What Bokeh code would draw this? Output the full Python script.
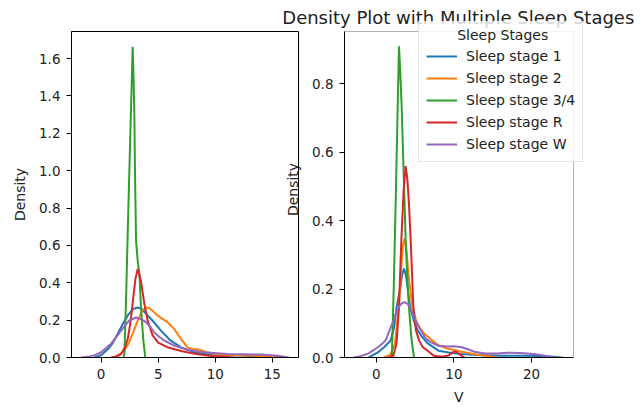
from bokeh.plotting import figure
from bokeh.models import (Range1d, FixedTicker, NumeralTickFormatter, Legend, LegendItem,
                          BoxAnnotation, Label)
from bokeh.layouts import row, column
from bokeh.embed import file_html
from bokeh.resources import INLINE

FONT = "DejaVu Sans"
TEXT = "#222222"

stages = ["Sleep stage 1", "Sleep stage 2", "Sleep stage 3/4", "Sleep stage R", "Sleep stage W"]
colors = ["#1f77b4", "#ff7f0e", "#2ca02c", "#d62728", "#9467bd"]

# ---- left panel: density estimates per stage ----
left_s1_x = [-0.6, 0.0, 0.6, 1.0, 1.45, 1.9, 2.33, 2.8, 3.2, 3.6, 4.0, 4.5, 5.24, 6.1, 7.0, 8.2, 9.6, 11.0, 12.5, 14.5]
left_s1_y = [0.0, 0.012, 0.045, 0.075, 0.127, 0.18, 0.225, 0.26, 0.268, 0.258, 0.23, 0.198, 0.144, 0.09, 0.054, 0.027, 0.016, 0.013, 0.01, 0.0]

left_s2_x = [1.16, 1.6, 2.03, 2.4, 2.76, 3.05, 3.34, 3.6, 3.93, 4.2, 4.5, 4.9, 5.24, 5.82, 6.4, 7.0, 7.56, 8.0, 8.44, 8.9, 9.3, 10.2, 11.5, 12.5, 14.5, 16.5]
left_s2_y = [0.0, 0.012, 0.037, 0.075, 0.127, 0.175, 0.216, 0.25, 0.268, 0.265, 0.25, 0.228, 0.212, 0.189, 0.153, 0.1, 0.054, 0.046, 0.044, 0.036, 0.028, 0.016, 0.013, 0.011, 0.008, 0.0]

left_s34_x = [1.95, 2.04, 2.2, 2.33, 2.45, 2.56, 2.67, 2.76, 2.84, 2.91, 2.97, 3.06, 3.2, 3.35, 3.49, 3.7, 3.87]
left_s34_y = [0.0, 0.02, 0.35, 0.67, 0.95, 1.2, 1.45, 1.663, 1.5, 1.3, 0.98, 0.626, 0.52, 0.45, 0.27, 0.09, 0.0]

left_sR_x = [0.87, 1.3, 1.75, 2.1, 2.33, 2.55, 2.76, 3.0, 3.2, 3.49, 3.78, 4.07, 4.5, 5.0, 5.8, 7.0, 8.2, 9.6, 11.7]
left_sR_y = [0.0, 0.006, 0.02, 0.055, 0.1, 0.18, 0.29, 0.42, 0.474, 0.41, 0.29, 0.2, 0.12, 0.08, 0.055, 0.035, 0.02, 0.008, 0.0]

left_sW_x = [-1.75, -1.0, -0.5, 0.0, 0.87, 1.3, 1.75, 2.1, 2.47, 3.05, 3.5, 3.93, 4.3, 4.65, 5.1, 5.53, 6.4, 7.56, 9.0, 11.05, 14.0, 15.5, 16.4]
left_sW_y = [0.0, 0.006, 0.014, 0.028, 0.074, 0.108, 0.144, 0.172, 0.198, 0.214, 0.205, 0.189, 0.165, 0.135, 0.11, 0.091, 0.064, 0.041, 0.028, 0.019, 0.016, 0.01, 0.0]

# ---- right panel: density estimates per stage ----
right_s1_x = [-1.0, 0.2, 1.0, 1.85, 2.3, 2.62, 3.05, 3.35, 3.57, 3.85, 4.34, 4.8, 5.29, 5.9, 6.58, 8.0, 9.5, 11.0, 13.0, 16.0, 19.0, 22.0, 24.0]
right_s1_y = [0.0, 0.015, 0.03, 0.05, 0.09, 0.148, 0.2, 0.245, 0.26, 0.235, 0.148, 0.11, 0.08, 0.06, 0.042, 0.02, 0.014, 0.01, 0.007, 0.005, 0.005, 0.004, 0.0]

right_s2_x = [1.0, 1.8, 2.4, 2.9, 3.2, 3.45, 3.65, 3.9, 4.13, 4.64, 5.1, 5.5, 6.15, 7.2, 8.0, 9.0, 10.0, 11.0, 12.5, 14.0, 15.6]
right_s2_y = [0.0, 0.008, 0.04, 0.15, 0.26, 0.33, 0.347, 0.31, 0.245, 0.148, 0.11, 0.09, 0.07, 0.05, 0.036, 0.027, 0.022, 0.017, 0.01, 0.005, 0.0]

right_s34_x = [2.0, 2.25, 2.5, 2.75, 2.92, 3.05, 3.27, 3.52, 3.78, 4.0, 4.2, 4.5, 4.85]
right_s34_y = [0.0, 0.21, 0.46, 0.73, 0.909, 0.85, 0.73, 0.537, 0.342, 0.23, 0.148, 0.06, 0.0]

right_sR_x = [1.6, 2.2, 2.6, 2.92, 3.22, 3.52, 3.78, 4.0, 4.2, 4.43, 4.77, 5.1, 5.5, 6.0, 6.6, 7.4, 8.5, 9.3, 9.8, 10.2, 10.7, 11.3]
right_sR_y = [0.0, 0.005, 0.04, 0.148, 0.342, 0.49, 0.559, 0.52, 0.45, 0.342, 0.148, 0.08, 0.05, 0.03, 0.02, 0.005, 0.002, 0.006, 0.015, 0.018, 0.01, 0.0]

right_sW_x = [-2.9, -2.0, -1.0, -0.3, 0.5, 1.2, 2.06, 2.7, 3.2, 3.65, 4.1, 4.64, 5.2, 5.7, 6.36, 7.0, 8.0, 9.0, 10.0, 11.0, 11.8, 12.6, 14.0, 15.5, 17.0, 18.5, 20.3, 21.5, 22.9]
right_sW_y = [0.0, 0.004, 0.012, 0.022, 0.035, 0.05, 0.1, 0.14, 0.157, 0.162, 0.155, 0.13, 0.1, 0.08, 0.055, 0.045, 0.034, 0.032, 0.033, 0.03, 0.024, 0.017, 0.012, 0.012, 0.014, 0.013, 0.01, 0.006, 0.0]

left_curves = [(left_s1_x, left_s1_y), (left_s2_x, left_s2_y), (left_s34_x, left_s34_y),
               (left_sR_x, left_sR_y), (left_sW_x, left_sW_y)]
right_curves = [(right_s1_x, right_s1_y), (right_s2_x, right_s2_y), (right_s34_x, right_s34_y),
                (right_sR_x, right_sR_y), (right_sW_x, right_sW_y)]

left_xticks = [0, 5, 10, 15]
left_yticks = [0.0, 0.2, 0.4, 0.6, 0.8, 1.0, 1.2, 1.4, 1.6]
right_xticks = [0, 10, 20]
right_yticks = [0.0, 0.2, 0.4, 0.6, 0.8]

# axes limits of the two panels
left_xlim = (-2.6, 17.3)
left_ylim = (0.0, 1.745)
right_xlim = (-4.1, 25.4)
right_ylim = (0.0, 0.952)

chart_title = "Density Plot with Multiple Sleep Stages"
legend_title = "Sleep Stages"
right_xlabel = "V"
ylabel = "Density"

W, H = 643, 415
TOP = 31      # distance from the page top to the axes boxes
BOTTOM = 58   # distance from the axes boxes to the page bottom
EXTRA_TOP, EXTRA_RIGHT = 10, 15   # room for the legend beyond the right box


def style_axes(p, xticks, yticks):
    p.xgrid.visible = False
    p.ygrid.visible = False
    p.xaxis.ticker = FixedTicker(ticks=xticks)
    p.yaxis.ticker = FixedTicker(ticks=yticks)
    p.yaxis.formatter = NumeralTickFormatter(format="0.0")
    for ax in (p.xaxis, p.yaxis):
        ax.axis_line_color = "black"
        ax.axis_line_width = 1
        ax.major_tick_out = 5
        ax.major_tick_in = 0
        ax.minor_tick_out = 0
        ax.minor_tick_in = 0
        ax.major_tick_line_color = "black"
        ax.major_label_text_font = FONT
        ax.major_label_text_font_size = "13.5px"
        ax.major_label_text_color = TEXT
        ax.major_label_standoff = 6
        ax.axis_label_text_font = FONT
        ax.axis_label_text_font_size = "14px"
        ax.axis_label_text_font_style = "normal"
        ax.axis_label_text_color = TEXT
    p.yaxis.axis_label_standoff = 8


# page-sized backdrop carrying the overall title and the x label of the right
# panel (both are centred on the right axes box); the panels sit on top of it
pt = figure(width=W, height=H, output_backend="svg", toolbar_location=None,
            x_range=Range1d(0, W), y_range=Range1d(H, 0),
            x_axis_type=None, y_axis_type=None, min_border=0)
pt.outline_line_color = None
pt.background_fill_color = None
pt.border_fill_color = None
pt.add_layout(Label(x=457.8, y=17, text=chart_title, text_align="center",
                    text_baseline="middle", text_font=FONT, text_font_size="18px",
                    text_color=TEXT))
pt.add_layout(Label(x=458.3, y=396, text=right_xlabel, text_align="center",
                    text_baseline="middle", text_font=FONT, text_font_size="14px",
                    text_color=TEXT))

# left panel (shifted down so both panels can share the same top border)
p1 = figure(width=310, height=H - EXTRA_TOP, output_backend="svg", toolbar_location=None,
            x_range=Range1d(*left_xlim), y_range=Range1d(*left_ylim),
            min_border_left=71, min_border_right=12,
            min_border_top=TOP - EXTRA_TOP, min_border_bottom=BOTTOM,
            margin=(EXTRA_TOP, 0, 0, 0))
p1.border_fill_color = None
p1.outline_line_color = "black"
p1.outline_line_width = 1
style_axes(p1, left_xticks, left_yticks)
p1.yaxis.axis_label = ylabel
for (xs, ys), c in zip(left_curves, colors):
    p1.line(xs, ys, line_color=c, line_width=2)

# right panel: the plotting area is a bit larger than the axes box so that the
# legend may spill over its top-right corner; the box edges are drawn explicitly
FRAME_W, FRAME_H = 229, 326
x_pad = EXTRA_RIGHT * (right_xlim[1] - right_xlim[0]) / FRAME_W
y_pad = EXTRA_TOP * (right_ylim[1] - right_ylim[0]) / FRAME_H

p2 = figure(width=361, height=H, output_backend="svg", toolbar_location=None,
            x_range=Range1d(right_xlim[0], right_xlim[1] + x_pad),
            y_range=Range1d(right_ylim[0], right_ylim[1] + y_pad),
            min_border_left=62, min_border_right=70 - EXTRA_RIGHT,
            min_border_top=TOP - EXTRA_TOP, min_border_bottom=BOTTOM,
            margin=(0, 0, 0, -28))
p2.border_fill_color = None
p2.background_fill_color = None
p2.outline_line_color = None
style_axes(p2, right_xticks, right_yticks)
p2.xaxis.bounds = right_xlim
p2.yaxis.bounds = right_ylim
p2.yaxis.axis_label = ylabel
p2.add_layout(BoxAnnotation(left=right_xlim[0], right=right_xlim[1],
                            bottom=right_ylim[0], top=right_ylim[1],
                            fill_color=None, line_color="black", line_width=1))

items = []
for (xs, ys), c, name in zip(right_curves, colors, stages):
    r = p2.line(xs, ys, line_color=c, line_width=2)
    items.append(LegendItem(label=name, renderers=[r]))

legend = Legend(items=items, location=(74, 195),
                title="\u00a0" * 7 + legend_title,
                title_text_font=FONT, title_text_font_size="14px", title_text_font_style="normal",
                title_text_color=TEXT, title_standoff=3,
                label_text_font=FONT, label_text_font_size="14px", label_text_color=TEXT,
                glyph_width=31, glyph_height=20, label_height=20, label_standoff=9,
                spacing=2, padding=7, margin=0,
                border_line_color="#cccccc", border_line_width=1,
                background_fill_color="white", background_fill_alpha=0.8,
                level="overlay")
p2.add_layout(legend)

panels = row(p1, p2, spacing=0, margin=(-H, 0, 0, 0))
layout = column(pt, panels, spacing=0)
open("out.html", "w").write(file_html(layout, INLINE))
